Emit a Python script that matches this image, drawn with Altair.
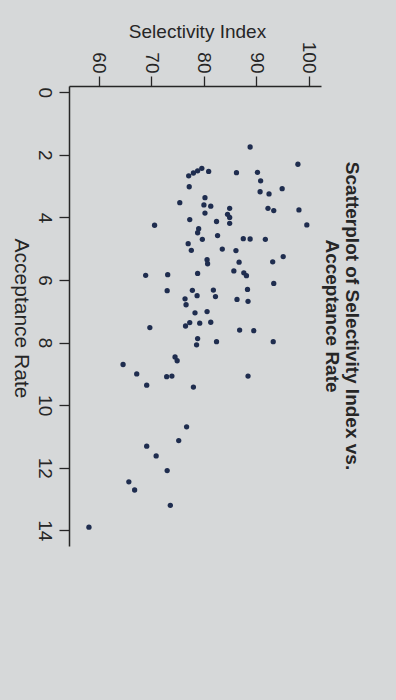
import altair as alt
import pandas as pd

# Values read from the (rotated) photo of the scatterplot
selectivity = [88.8, 97.9, 86.2, 90.2, 77.1, 78.0, 78.8, 79.6, 80.9, 77.2,
               90.8, 90.7, 92.4, 94.9, 75.4, 80.2, 80.0, 81.3, 80.2, 84.9,
               84.5, 84.9, 84.9, 92.2, 93.3, 98.1, 99.6, 70.6, 77.3, 82.4,
               79.0, 78.8, 82.6, 79.7, 77.0, 77.6, 87.5, 88.8, 91.7, 83.5,
               86.1, 80.6, 80.7, 86.7, 93.1, 95.1, 68.9, 73.1, 78.8, 85.7,
               87.6, 88.1, 73.0, 77.8, 81.8, 82.2, 93.3, 76.4, 76.6, 78.7,
               88.3, 86.3, 88.4, 78.3, 80.6, 69.7, 76.5, 77.3, 79.2, 81.3,
               86.8, 89.5, 78.8, 78.6, 82.4, 93.2, 64.6, 74.5, 74.9, 67.2,
               72.9, 73.9, 69.1, 88.4, 78.0, 76.7, 75.2, 69.1, 70.9, 73.0,
               65.7, 66.8, 73.6, 58.1]
acceptance = [1.75, 2.30, 2.57, 2.56, 2.67, 2.58, 2.51, 2.43, 2.53, 3.02,
              2.83, 3.18, 3.25, 3.08, 3.53, 3.37, 3.60, 3.64, 3.86, 3.71,
              3.90, 4.00, 4.19, 3.71, 3.78, 3.76, 4.24, 4.25, 4.07, 4.13,
              4.36, 4.49, 4.58, 4.70, 4.84, 5.05, 4.68, 4.69, 4.70, 5.01,
              5.06, 5.35, 5.48, 5.43, 5.42, 5.25, 5.85, 5.83, 5.79, 5.71,
              5.77, 5.86, 6.34, 6.33, 6.32, 6.53, 6.11, 6.60, 6.79, 6.50,
              6.30, 6.62, 6.68, 7.05, 7.01, 7.52, 7.47, 7.36, 7.38, 7.35,
              7.60, 7.62, 7.87, 8.07, 7.97, 7.97, 8.70, 8.46, 8.58, 9.00,
              9.09, 9.07, 9.36, 9.07, 9.42, 10.69, 11.13, 11.31, 11.62, 12.09,
              12.45, 12.71, 13.20, 13.90]

sel_ticks = [60, 70, 80, 90, 100]
acc_ticks = [0, 2, 4, 6, 8, 10, 12, 14]
title_lines = ["Scatterplot of Selectivity Index vs.", "Acceptance Rate"]

df = pd.DataFrame({"Selectivity": selectivity, "Acceptance": acceptance})

FONT = "Liberation Sans"
INK = "#262626"

chart = alt.Chart(df).mark_circle(size=28, color="#1f2d4f", opacity=1).encode(
    x=alt.X(
        "Selectivity:Q",
        scale=alt.Scale(domain=[54.3, 102.3], nice=False, zero=False),
        axis=alt.Axis(
            orient="top", values=sel_ticks, labelAngle=90, labelAlign="right",
            labelBaseline="middle", labelFontSize=19, labelPadding=3,
            tickSize=10, title="Selectivity Index", titleFontSize=19,
            titleAngle=0, titleX=128, titleY=-49, titleAlign="center",
            titleBaseline="alphabetic", titleFontWeight="normal",
        ),
    ),
    y=alt.Y(
        "Acceptance:Q",
        scale=alt.Scale(domain=[-0.2, 14.5], nice=False, zero=False, reverse=True),
        axis=alt.Axis(
            orient="left", values=acc_ticks, labelAngle=90, labelAlign="center",
            labelBaseline="top", labelFontSize=19, labelPadding=6,
            tickSize=10, title="Acceptance Rate", titleFontSize=21,
            titleAngle=90, titleX=-38, titleY=232, titleAlign="center",
            titleBaseline="top", titleFontWeight="normal",
        ),
    ),
).properties(
    width=252,
    height=460,
    padding={"left": 69, "top": 86, "right": 75, "bottom": 154},
    autosize=alt.AutoSizeParams(type="none"),
    background="#d6d8d9",
    title=alt.TitleParams(
        text=title_lines, orient="right", anchor="middle", fontSize=19,
        fontWeight="bold", lineHeight=20, offset=1, color=INK, font=FONT,
    ),
).configure_view(stroke=None).configure_axis(
    grid=False, domainColor=INK, domainWidth=1.5, tickColor=INK, tickWidth=1.3,
    labelColor=INK, titleColor=INK, labelFont=FONT, titleFont=FONT,
    labelFlush=False, labelOverlap=False,
)

chart.save("out.html", embed_options={"renderer": "svg", "actions": False})
